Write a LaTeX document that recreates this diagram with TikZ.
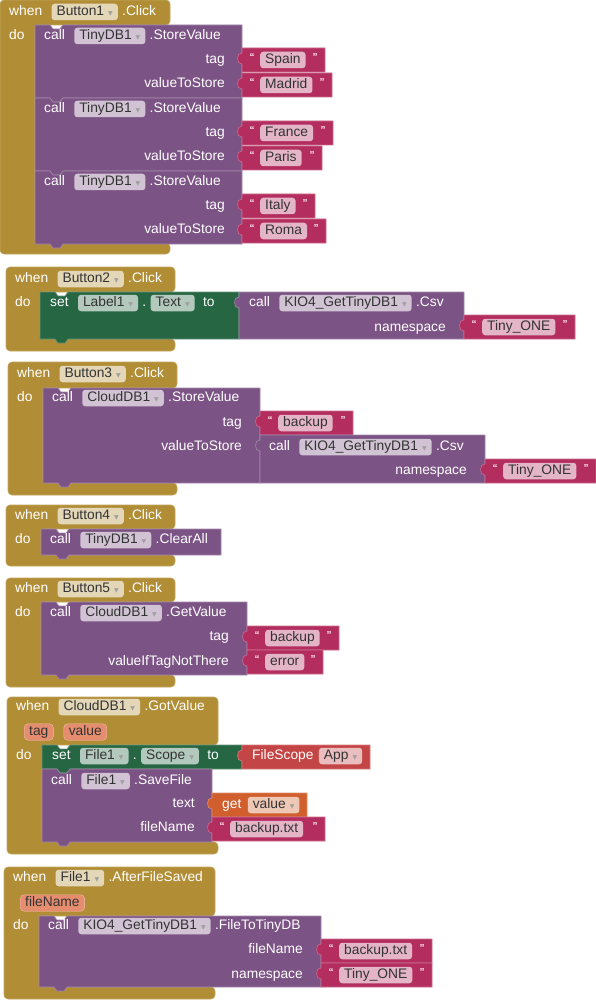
\documentclass[tikz,border=0pt]{standalone}
\usepackage{fontspec}
\setmainfont{Liberation Sans}
\newfontfamily\symf{DejaVu Sans}
\usepackage{tikz}
\usetikzlibrary{positioning}
\definecolor{aiGold}{HTML}{B18E35}
\definecolor{aiPurple}{HTML}{7C5385}
\definecolor{aiGreen}{HTML}{266643}
\definecolor{aiText}{HTML}{B32D5E}
\definecolor{aiHelper}{HTML}{C44545}
\definecolor{aiGet}{HTML}{D05F2D}
\definecolor{aiParam}{HTML}{E58D6E}
\definecolor{ddText}{HTML}{333333}
% block shapes, all in pixel units (y downwards)
\newcommand{\dda}{\hspace{4pt}{\symf\fontsize{6}{6}\selectfont\textcolor{gray!75}{▼}}}
\newcommand{\hatblk}[7]{% x0,y0,x1,y1,header bottom,arm right,bar top
  \draw[fill=aiGold,draw=aiGold!80!white,line width=.6pt,rounded corners=4pt] (#1,#2) -- (#3,#2) -- (#3,#5) -- (#6,#5) -- (#6,#7) -- (#3,#7) -- (#3,#4) -- (#1,#4) -- cycle;}
\newcommand{\stmtblk}[5]{% x0,y0,x1,y1,colour
  \draw[fill=#5,draw=#5!70!white,line width=.6pt] (#1,#2) -- (#1+15,#2) -- (#1+18,#2+4) -- (#1+25,#2+4) -- (#1+28,#2) -- (#3,#2) -- (#3,#4) -- (#1+28,#4) -- (#1+25,#4+4) -- (#1+18,#4+4) -- (#1+15,#4) -- (#1,#4) -- cycle;}
\newcommand{\valblk}[5]{% x0,y0,x1,y1,colour
  \draw[fill=#5,draw=#5!70!white,line width=.6pt] (#1,#2) -- (#3,#2) -- (#3,#4) -- (#1,#4) -- (#1,#2+16) .. controls (#1-6,#2+17) and (#1-6,#2+4) .. (#1,#2+5) -- cycle;}
\newcommand{\txtblk}[5]{% name,x0,y0,x1,text
  \valblk{#2}{#3}{#4}{#3+24}{aiText}
  \node[qt] (#1-l) at (#2+10,#3+9) {“};
  \node[dd=aiText] (#1) at (#2+18,#3+12) {#5};
  \node[qt] (#1-r) at (#4-10,#3+9) {”};}

\begin{document}
\begin{tikzpicture}[x=1pt,y=-1pt,font=\fontsize{13.8}{16}\selectfont,
  lb/.style={text=white,inner sep=0pt,text height=10pt,text depth=2.5pt},
  dd/.style={fill=#1!35!white,text=ddText,rounded corners=3pt,inner xsep=5pt,inner ysep=2pt,text height=10pt,text depth=2.5pt,anchor=west},
  par/.style={fill=aiParam,draw=aiParam!55!white,text=ddText,rounded corners=4pt,inner xsep=5pt,inner ysep=2pt,text height=10pt,text depth=2.5pt},
  qt/.style={text=white!85!pink,inner sep=0pt,font=\fontsize{10}{10}\selectfont\bfseries}]
  \useasboundingbox (0,0) rectangle (596,1000);

  % when Button1.Click
  \hatblk{0}{0}{170}{254}{25}{35}{243}
  \node[lb,anchor=west] (w1) at (9,12) {when};
  \node[dd=aiGold,right=9pt of w1] (b1) {Button1\dda};
  \node[lb,right=4pt of b1] (e1) {.Click};
  \node[lb,anchor=west] (d1) at (9,36) {do};
  \foreach \i/\ta/\tr/\va/\vr in {0/Spain/325/Madrid/332,1/France/333/Paris/322,2/Italy/315/Roma/326}{
    \pgfmathsetmacro\yy{25+73*\i}
    \stmtblk{35}{\yy}{242}{\yy+73}{aiPurple}
    \node[lb,anchor=west] (c\i) at (44,\yy+11) {call};
    \node[dd=aiPurple,right=9pt of c\i] (db\i) {TinyDB1\dda};
    \node[lb,right=4pt of db\i] (sv\i) {.StoreValue};
    \node[lb,anchor=east] (tg\i) at (225,\yy+35) {tag};
    \node[lb,anchor=east] (vs\i) at (225,\yy+59) {valueToStore};
    \txtblk{ta\i}{242}{\yy+23}{\tr}{\ta}
    \txtblk{va\i}{242}{\yy+48}{\vr}{\va}
  }

  % when Button2.Click
  \hatblk{6}{267}{175}{351}{292}{40}{339}
  \node[lb,anchor=west] (w2) at (15,279) {when};
  \node[dd=aiGold,right=9pt of w2] (b2) {Button2\dda};
  \node[lb,right=4pt of b2] (e2) {.Click};
  \node[lb,anchor=west] (d2) at (15,303) {do};
  \stmtblk{40}{292}{239}{339}{aiGreen}
  \node[lb,anchor=west] (s2) at (50,303) {set};
  \node[dd=aiGreen,right=9pt of s2] (l2) {Label1\dda};
  \node[lb,right=4pt of l2] (p2) {.};
  \node[dd=aiGreen,right=4pt of p2] (t2) {Text\dda};
  \node[lb,right=8pt of t2] (to2) {to};
  \valblk{239}{292}{464}{339}{aiPurple}
  \node[lb,anchor=west] (c2) at (249,303) {call};
  \node[dd=aiPurple,right=9pt of c2] (k2) {KIO4\_GetTinyDB1\dda};
  \node[lb,right=4pt of k2] (csv2) {.Csv};
  \node[lb,anchor=east] (n2) at (446,328) {namespace};
  \txtblk{tn2}{464}{315}{575}{Tiny\_ONE}

  % when Button3.Click
  \hatblk{8}{362}{177}{495}{388}{43}{483}
  \node[lb,anchor=west] (w3) at (17,374) {when};
  \node[dd=aiGold,right=9pt of w3] (b3) {Button3\dda};
  \node[lb,right=4pt of b3] (e3) {.Click};
  \node[lb,anchor=west] (d3) at (17,398) {do};
  \stmtblk{43}{388}{260}{483}{aiPurple}
  \node[lb,anchor=west] (c3) at (52,398) {call};
  \node[dd=aiPurple,right=9pt of c3] (db3) {CloudDB1\dda};
  \node[lb,right=4pt of db3] (sv3) {.StoreValue};
  \node[lb,anchor=east] (tg3) at (242,423) {tag};
  \node[lb,anchor=east] (vs3) at (242,447) {valueToStore};
  \txtblk{tb3}{260}{411}{353}{backup}
  \valblk{260}{435}{485}{483}{aiPurple}
  \node[lb,anchor=west] (cc3) at (269,447) {call};
  \node[dd=aiPurple,right=9pt of cc3] (k3) {KIO4\_GetTinyDB1\dda};
  \node[lb,right=4pt of k3] (csv3) {.Csv};
  \node[lb,anchor=east] (n3) at (467,471) {namespace};
  \txtblk{tn3}{485}{459}{596}{Tiny\_ONE}

  % when Button4.Click
  \hatblk{6}{505}{175}{566}{529}{41}{555}
  \node[lb,anchor=west] (w4) at (15,516) {when};
  \node[dd=aiGold,right=9pt of w4] (b4) {Button4\dda};
  \node[lb,right=4pt of b4] (e4) {.Click};
  \node[lb,anchor=west] (d4) at (15,540) {do};
  \stmtblk{41}{529}{221}{555}{aiPurple}
  \node[lb,anchor=west] (c4) at (50,540) {call};
  \node[dd=aiPurple,right=9pt of c4] (db4) {TinyDB1\dda};
  \node[lb,right=4pt of db4] (ca4) {.ClearAll};

  % when Button5.Click
  \hatblk{6}{578}{175}{687}{602}{41}{675}
  \node[lb,anchor=west] (w5) at (15,589) {when};
  \node[dd=aiGold,right=9pt of w5] (b5) {Button5\dda};
  \node[lb,right=4pt of b5] (e5) {.Click};
  \node[lb,anchor=west] (d5) at (15,613) {do};
  \stmtblk{41}{602}{247}{675}{aiPurple}
  \node[lb,anchor=west] (c5) at (50,613) {call};
  \node[dd=aiPurple,right=9pt of c5] (db5) {CloudDB1\dda};
  \node[lb,right=4pt of db5] (gv5) {.GetValue};
  \node[lb,anchor=east] (tg5) at (229,637) {tag};
  \node[lb,anchor=east] (vi5) at (229,662) {valueIfTagNotThere};
  \txtblk{tb5}{247}{626}{339}{backup}
  \txtblk{te5}{247}{650}{323}{error}

  % when CloudDB1.GotValue
  \hatblk{7}{697}{218}{854}{745}{42}{842}
  \node[lb,anchor=west] (w6) at (16,707) {when};
  \node[dd=aiGold,right=9pt of w6] (db6) {CloudDB1\dda};
  \node[lb,right=4pt of db6] (gv6) {.GotValue};
  \node[par,anchor=west] (pt6) at (24,732) {tag};
  \node[par,right=10pt of pt6] (pv6) {value};
  \node[lb,anchor=west] (d6) at (16,756) {do};
  \stmtblk{42}{745}{242}{769}{aiGreen}
  \node[lb,anchor=west] (s6) at (52,756) {set};
  \node[dd=aiGreen,right=9pt of s6] (f6) {File1\dda};
  \node[lb,right=4pt of f6] (p6) {.};
  \node[dd=aiGreen,right=4pt of p6] (sc6) {Scope\dda};
  \node[lb,right=8pt of sc6] (to6) {to};
  \valblk{242}{745}{370}{769}{aiHelper}
  \node[lb,anchor=west] (fs6) at (252,756) {FileScope};
  \node[dd=aiHelper,right=5pt of fs6] (ap6) {App\dda};
  \stmtblk{42}{769}{212}{842}{aiPurple}
  \node[lb,anchor=west] (c6) at (51,781) {call};
  \node[dd=aiPurple,right=9pt of c6] (ff6) {File1\dda};
  \node[lb,right=4pt of ff6] (sf6) {.SaveFile};
  \node[lb,anchor=east] (tx6) at (195,804) {text};
  \node[lb,anchor=east] (fn6) at (195,828) {fileName};
  \valblk{212}{793}{307}{817}{aiGet}
  \node[lb,anchor=west] (g6) at (222,805) {get};
  \node[dd=aiGet,right=6pt of g6] (gv6v) {value\dda};
  \txtblk{tf6}{212}{817}{325}{backup.txt}

  % when File1.AfterFileSaved
  \hatblk{4}{867}{215}{999}{916}{39}{987}
  \node[lb,anchor=west] (w7) at (13,878) {when};
  \node[dd=aiGold,right=9pt of w7] (f7) {File1\dda};
  \node[lb,right=4pt of f7] (as7) {.AfterFileSaved};
  \node[par,anchor=west] (pf7) at (20,903) {fileName};
  \node[lb,anchor=west] (d7) at (13,926) {do};
  \stmtblk{39}{916}{321}{987}{aiPurple}
  \node[lb,anchor=west] (c7) at (48,926) {call};
  \node[dd=aiPurple,right=9pt of c7] (k7) {KIO4\_GetTinyDB1\dda};
  \node[lb,right=4pt of k7] (ft7) {.FileToTinyDB};
  \node[lb,anchor=east] (fn7) at (303,950) {fileName};
  \node[lb,anchor=east] (n7) at (303,975) {namespace};
  \txtblk{tf7}{321}{939}{432}{backup.txt}
  \txtblk{tn7}{321}{963}{432}{Tiny\_ONE}
\end{tikzpicture}
\end{document}
